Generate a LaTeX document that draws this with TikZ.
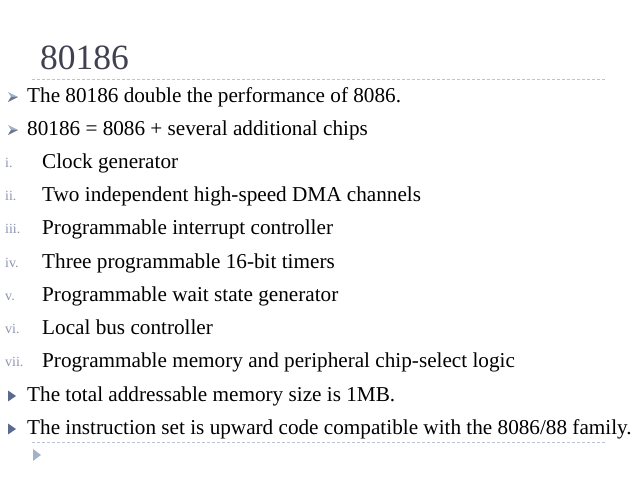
\documentclass[tikz,border=0pt]{standalone}
\usepackage{fontspec}
\setmainfont{Liberation Serif}
\definecolor{titlec}{HTML}{404050}
\definecolor{numc}{HTML}{8C94B0}
\definecolor{tric}{HTML}{5C6A92}
\definecolor{lightt}{HTML}{9FB3CC}
\definecolor{dashc}{HTML}{B8C4D4}
\begin{document}
\begin{tikzpicture}[x=1pt,y=-1pt,
  txt/.style={anchor=base west,inner sep=0pt,font=\fontsize{21.2}{24}\selectfont},
  num/.style={anchor=base west,inner sep=0pt,font=\fontsize{14}{16}\selectfont,text=numc},
  sep/.style={draw=dashc,densely dashed,line width=0.6pt}]
\useasboundingbox (0,0) rectangle (638,478);
\node[anchor=base west,inner sep=0pt,font=\fontsize{35.5}{40}\selectfont,text=titlec] (title) at (40,70) {80186};
\coordinate (l1) at (32,79); \coordinate (r1) at (605,79);
\draw[sep] (l1) -- (r1);
\coordinate (l2) at (32,442); \coordinate (r2) at (605,442);
\draw[sep] (l2) -- (r2);
\foreach \y in {97,130}{
  \fill[lightt] (8,\y-5) -- (18,\y) -- (8,\y+5) -- (11,\y) -- cycle;
  \fill[numc!80!black] (11,\y) -- (18,\y) -- (8,\y+5) -- cycle;
}
\node[txt] (t1) at (27,103) {The 80186 double the performance of 8086.};
\node[txt] (t2) at (27,136) {80186 = 8086 + several additional chips};
\node[num] at (5,168) {i.};   \node[txt] at (42,169) {Clock generator};
\node[num] at (5,201) {ii.};  \node[txt] at (42,202) {Two independent high-speed DMA channels};
\node[num] at (5,234) {iii.}; \node[txt] at (42,235) {Programmable interrupt controller};
\node[num] at (5,268) {iv.};  \node[txt] at (42,269) {Three programmable 16-bit timers};
\node[num] at (5,301) {v.};   \node[txt] at (42,302) {Programmable wait state generator};
\node[num] at (5,334) {vi.};  \node[txt] at (42,335) {Local bus controller};
\node[num] at (5,367) {vii.}; \node[txt] at (42,368) {Programmable memory and peripheral chip-select logic};
\foreach \y in {396,429}{
  \fill[tric] (8,\y-5.5) -- (16,\y) -- (8,\y+5.5) -- cycle;
}
\node[txt] at (27,402) {The total addressable memory size is 1MB.};
\node[txt] at (27,435) {The instruction set is upward code compatible with the 8086/88 family.};
\fill[lightt] (33,449) -- (41,455) -- (33,461) -- cycle;
\end{tikzpicture}
\end{document}
